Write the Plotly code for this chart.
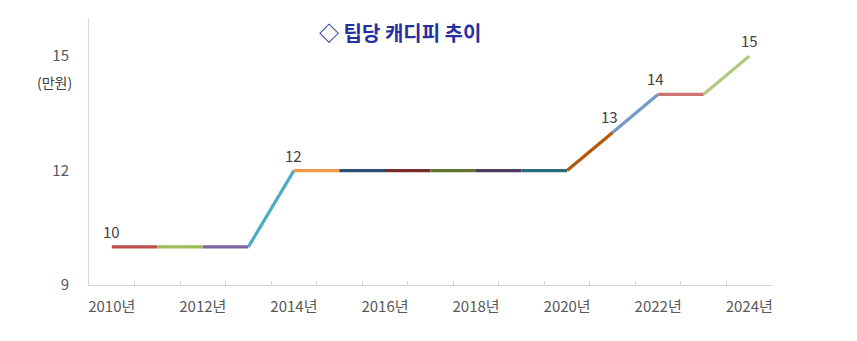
import plotly.graph_objects as go

years = ["2010년", "2011년", "2012년", "2013년", "2014년", "2015년", "2016년", "2017년",
         "2018년", "2019년", "2020년", "2021년", "2022년", "2023년", "2024년"]
fees = [10, 10, 10, 10, 12, 12, 12, 12, 12, 12, 12, 13, 14, 14, 15]
segment_colors = ["#C0504D", "#9BBB59", "#8064A2", "#4BACC6", "#F79646", "#2C4D75",
                  "#772C2A", "#5F7530", "#4D3B62", "#276A7C", "#B65708", "#729ACA",
                  "#CD7371", "#AFC97A"]
label_idx = [0, 4, 11, 12, 14]
tick_years = ["2010년", "2012년", "2014년", "2016년", "2018년", "2020년", "2022년", "2024년"]

FONT = "Noto Sans CJK KR"
fig = go.Figure()
for i, c in enumerate(segment_colors):
    fig.add_trace(go.Scatter(x=years[i:i + 2], y=fees[i:i + 2], mode="lines",
                             line=dict(color=c, width=3.2), showlegend=False,
                             hoverinfo="skip"))

annotations = [
    dict(x=years[i], y=fees[i], xref="x", yref="y", text=str(fees[i]), showarrow=False,
         yanchor="bottom", yshift=3, xshift=-3 if i in (11, 12) else 0,
         font=dict(family=FONT, size=15, color="#404040"))
    for i in label_idx
]
annotations += [
    dict(text="<b>◇ 팁당 캐디피 추이</b>", xref="paper", yref="paper", x=0.456, y=0.944,
         showarrow=False, font=dict(family=FONT, size=20, color="#25309E"),
         xanchor="center", yanchor="middle"),
    dict(text="(만원)", xref="paper", yref="paper", x=-0.05, y=0.76,
         showarrow=False, font=dict(family=FONT, size=14, color="#404040"),
         xanchor="center", yanchor="middle"),
]

fig.update_layout(
    width=857, height=341,
    margin=dict(l=89, r=85, t=18, b=56),
    paper_bgcolor="white", plot_bgcolor="white",
    font=dict(family=FONT, color="#595959", size=14),
    xaxis=dict(type="category", categoryorder="array", categoryarray=years,
               tickvals=years, ticktext=[y if y in tick_years else "" for y in years],
               tickson="boundaries", ticks="inside", ticklen=4, tickcolor="#D0D4DA",
               tickangle=0, ticklabelstandoff=8,
               showline=True, linecolor="#D0D4DA", linewidth=1, showgrid=False,
               tickfont=dict(size=15, color="#595959"), range=[-0.5, 14.5]),
    yaxis=dict(range=[9, 16], tickvals=[9, 12, 15], showline=True, linecolor="#D0D8E4",
               linewidth=1, showgrid=False, zeroline=False, ticks="",
               ticklabelstandoff=16,
               tickfont=dict(size=15, color="#595959")),
    annotations=annotations,
)

fig.write_html("out.html")
